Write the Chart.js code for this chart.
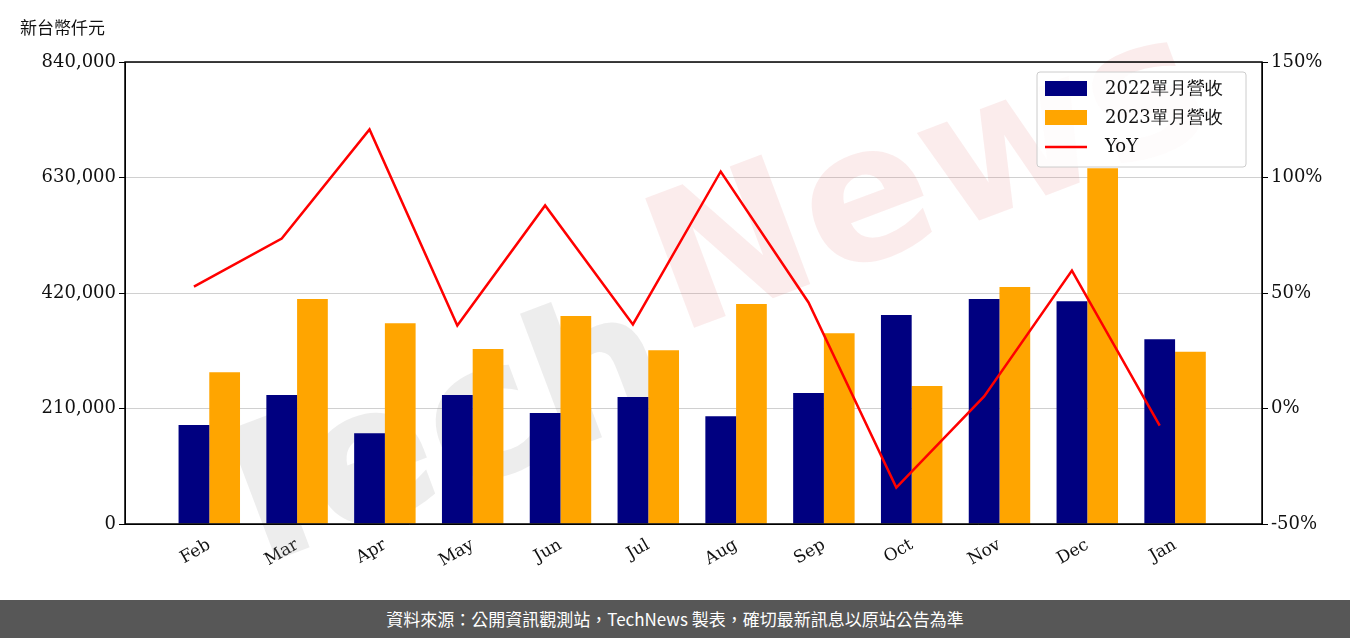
<!DOCTYPE html>
<html><head><meta charset="utf-8">
<script src="https://cdn.jsdelivr.net/npm/chart.js@4"></script>
<style>
body{margin:0;background:#fff;width:1350px;height:638px;overflow:hidden;font-family:"Noto Sans CJK TC",sans-serif}
#wrap{position:relative;width:1350px;height:600px}
#unit{position:absolute;left:20px;top:14px;font-size:17px;color:#111}
#foot{position:absolute;left:0;top:600px;width:1350px;height:38px;background:#575757;color:#fff;font-size:17px;text-align:center;line-height:38px}
</style></head><body>
<div id="wrap"><canvas id="c" width="1350" height="600"></canvas><div id="unit">新台幣仟元</div></div>
<div id="foot">資料來源：公開資訊觀測站，TechNews 製表，確切最新訊息以原站公告為準</div>
<script>
const months = ["Feb","Mar","Apr","May","Jun","Jul","Aug","Sep","Oct","Nov","Dec","Jan"];
const rev2022 = [180000,234500,165000,234500,202000,231000,196000,238000,380000,409000,405000,336000];
const rev2023 = [276000,409000,365000,318000,378000,316000,400000,347000,251000,431000,647000,313000];
const yoy = [52.8,73.6,120.8,35.9,87.9,36.4,102.6,45.9,-34.2,5.2,59.7,-7.4];

const serif = "DejaVu Serif";
const pts = (arr, shift = 0) => arr.map((v, i) => ({ x: i + shift, y: v }));

const frame = {
  id: "frame",
  beforeDatasetsDraw(chart) {
    const {ctx} = chart;
    ctx.save();
    ctx.translate(660, 320);
    ctx.rotate(-0.36);
    ctx.font = "bold 190px 'DejaVu Sans'";
    ctx.textAlign = "center";
    ctx.textBaseline = "middle";
    ctx.fillStyle = "rgba(140,140,140,0.16)";
    ctx.fillText("Tech", -250, 40);
    ctx.fillStyle = "rgba(230,120,120,0.14)";
    ctx.fillText("News", 300, -30);
    ctx.restore();
  },
  afterDraw(chart) {
    const {ctx, chartArea: a} = chart;
    ctx.save();
    ctx.strokeStyle = "#000";
    ctx.lineWidth = 1.5;
    ctx.strokeRect(a.left, a.top, a.right - a.left, a.bottom - a.top);
    const x = 1037, y = 72, w = 209, h = 95;
    ctx.fillStyle = "rgba(255,255,255,0.85)";
    ctx.strokeStyle = "#ccc";
    ctx.lineWidth = 1;
    ctx.beginPath(); ctx.roundRect(x, y, w, h, 3); ctx.fill(); ctx.stroke();
    ctx.font = "18px " + serif;
    ctx.textBaseline = "middle";
    chart.data.datasets.forEach((d, i) => {
      const cy = y + 17 + i * 29;
      if (d.type === "line") {
        ctx.strokeStyle = d.borderColor; ctx.lineWidth = 2.5;
        ctx.beginPath(); ctx.moveTo(x + 8, cy); ctx.lineTo(x + 50, cy); ctx.stroke();
      } else {
        ctx.fillStyle = d.backgroundColor;
        ctx.fillRect(x + 8, cy - 8, 42, 15);
      }
      ctx.fillStyle = "#111";
      ctx.fillText(d.label, x + 68, cy);
    });
    ctx.restore();
  }
};

new Chart(document.getElementById("c"), {
  data: {
    datasets: [
      { type: "bar", label: "2022單月營收", data: pts(rev2022), backgroundColor: "#000080", yAxisID: "y", order: 2 },
      { type: "bar", label: "2023單月營收", data: pts(rev2023), backgroundColor: "#FFA500", yAxisID: "y", order: 2 },
      { type: "line", label: "YoY", data: pts(yoy, -0.175), borderColor: "#FF0000", borderWidth: 2.5, pointRadius: 0, tension: 0, yAxisID: "y1", order: 1 }
    ]
  },
  options: {
    responsive: false, animation: false,
    layout: { padding: { top: 62, left: 0, right: 0, bottom: 0 } },
    plugins: { legend: { display: false }, tooltip: { enabled: false } },
    datasets: { bar: { categoryPercentage: 0.7, barPercentage: 1 } },
    scales: {
      x: {
        type: "linear", min: -0.96, max: 11.99, offset: false,
        grid: { display: false, drawTicks: true },
        border: { color: "#000" },
        afterBuildTicks(s) { s.ticks = months.map((m, i) => ({ value: i })); },
        ticks: { color: "#111", font: { family: serif, size: 17 }, minRotation: 30, maxRotation: 30, callback: v => months[v] },
        afterFit(s) { s.height = 76; }
      },
      y: {
        position: "left", min: 0, max: 840000,
        ticks: { stepSize: 210000, color: "#111", font: { family: serif, size: 18 }, callback: v => v.toLocaleString("en-US") },
        grid: { color: "#d0d0d0", tickColor: "#000", tickLength: 6 },
        border: { color: "#000" },
        afterFit(s) { s.width = 125; }
      },
      y1: {
        position: "right", min: -50, max: 150,
        ticks: { stepSize: 50, color: "#111", font: { family: serif, size: 18 }, callback: v => v + "%" },
        grid: { drawOnChartArea: false, tickColor: "#000", tickLength: 6 },
        border: { color: "#000" },
        afterFit(s) { s.width = 88; }
      }
    }
  },
  plugins: [frame]
});
</script>
</body></html>
